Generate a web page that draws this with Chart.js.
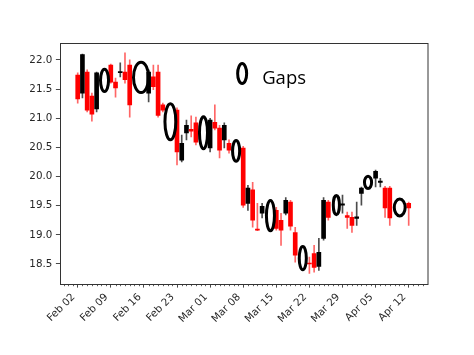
<!DOCTYPE html>
<html><head><meta charset="utf-8">
<script src="https://cdn.jsdelivr.net/npm/chart.js@4/dist/chart.umd.min.js"></script>
<style>html,body{margin:0;padding:0;background:#fff;} #c{display:block;}</style>
</head><body>
<canvas id="c" width="474" height="355"></canvas>
<script>
// ---- data ----
const dates = [
 '2004-02-02','2004-02-03','2004-02-04','2004-02-05','2004-02-06',
 '2004-02-09','2004-02-10','2004-02-11','2004-02-12','2004-02-13',
 '2004-02-17','2004-02-18','2004-02-19','2004-02-20',
 '2004-02-23','2004-02-24','2004-02-25','2004-02-26','2004-02-27',
 '2004-03-01','2004-03-02','2004-03-03','2004-03-04','2004-03-05',
 '2004-03-08','2004-03-09','2004-03-10','2004-03-11','2004-03-12',
 '2004-03-15','2004-03-16','2004-03-17','2004-03-18','2004-03-19',
 '2004-03-22','2004-03-23','2004-03-24','2004-03-25','2004-03-26',
 '2004-03-29','2004-03-30','2004-03-31','2004-04-01','2004-04-02',
 '2004-04-05','2004-04-06','2004-04-07','2004-04-08',
 '2004-04-12'];
const opens  = [21.74,21.43,21.79,21.38,21.16, 21.91,21.62,21.78,21.79,21.91, 21.43,21.71,21.79,21.23,
  21.14,20.28,20.75,20.81,20.92, 20.49,20.93,20.83,20.63,20.57, 20.49,19.54,19.77,19.10,19.37,
  19.42,19.25,19.37,19.56,19.04, 18.51,18.68,18.46,18.94,19.56, 19.51,19.33,19.30,19.28,19.71,
  19.97,19.90,19.80,19.80, 19.54];
const highs  = [21.78,22.10,21.83,21.43,21.79, 21.93,21.69,21.95,22.12,22.00, 21.83,21.91,21.91,21.26,
  21.18,20.71,20.97,21.04,21.02, 21.00,21.23,20.88,20.92,20.63, 20.52,19.85,19.90,19.54,19.54,
  19.47,19.37,19.64,19.59,19.13, 18.62,18.82,18.94,19.64,19.59, 19.68,19.39,19.39,19.56,19.82,
  20.11,19.97,19.83,19.83, 19.56];
const lows   = [21.26,21.35,21.11,20.95,21.11, 21.60,21.36,21.71,21.60,21.02, 21.28,21.49,21.02,21.11,
  20.20,20.25,20.63,20.68,20.54, 20.42,20.80,20.32,20.49,20.40, 19.47,19.42,19.13,19.07,19.29,
  19.08,18.82,19.34,19.08,18.53, 18.34,18.36,18.39,18.91,19.25, 19.37,19.11,19.04,19.16,19.51,
  19.82,19.82,19.30,19.16, 19.16];
const closes = [21.33,22.09,21.14,21.07,21.78, 21.62,21.52,21.80,21.66,21.23, 21.79,21.54,21.05,21.14,
  20.42,20.57,20.88,20.78,20.59, 20.97,20.83,20.45,20.88,20.45, 19.51,19.80,19.25,19.08,19.49,
  19.11,19.08,19.59,19.15,18.65, 18.50,18.44,18.70,19.59,19.30, 19.53,19.30,19.16,19.31,19.80,
  20.09,19.92,19.46,19.29, 19.46];
// gap markers: centre (days after Feb 02, price) and span (days, price)
const gapX     = [5.67,13.4,19.6,26.6,33.5,40.76,47.6,54.7,61.4,68.1];
const gapY     = [21.65,21.70,20.94,20.75,20.44,19.33,18.60,19.51,19.90,19.47];
const gapSpanX = [1.7,3.2,2.3,1.7,1.5,1.7,1.5,1.3,1.5,2.3];
const gapSpanY = [0.38,0.52,0.62,0.55,0.36,0.52,0.40,0.33,0.21,0.29];
const tickDates  = ['2004-02-02','2004-02-09','2004-02-16','2004-02-23','2004-03-01','2004-03-08','2004-03-15','2004-03-22','2004-03-29','2004-04-05','2004-04-12'];
const tickLabels = ['Feb 02','Feb 09','Feb 16','Feb 23','Mar 01','Mar 08','Mar 15','Mar 22','Mar 29','Apr 05','Apr 12'];
const yTicks = [18.5,19.0,19.5,20.0,20.5,21.0,21.5,22.0];
const legendText = 'Gaps';

// ---- helpers ----
const base = Date.UTC(2004,1,2);
const dayOf = s => { const [Y,M,D] = s.split('-').map(Number); return (Date.UTC(Y,M-1,D)-base)/86400000; };
const xs = dates.map(dayOf);
const tickDays = tickDates.map(dayOf);
const up = closes.map((c,i)=>c>=opens[i]);
const bodyData = xs.map((x,i)=>({x, y:[opens[i], closes[i]]}));
const wickData = xs.map((x,i)=>({x, y:[lows[i], highs[i]]}));

const FONT = 'DejaVu Sans';
const decor = {
  id:'decor',
  afterDatasetsDraw(chart){
    const {ctx, chartArea:a, scales:{x,y}} = chart;
    ctx.save();
    ctx.beginPath(); ctx.rect(a.left,a.top,a.right-a.left,a.bottom-a.top); ctx.clip();
    ctx.strokeStyle='#000'; ctx.lineWidth=3;
    gapX.forEach((gx,i)=>{
      const cx=x.getPixelForValue(gx), cy=y.getPixelForValue(gapY[i]);
      const rx=Math.abs(x.getPixelForValue(gx+gapSpanX[i]/2)-cx);
      const ry=Math.abs(y.getPixelForValue(gapY[i]+gapSpanY[i]/2)-cy);
      ctx.beginPath(); ctx.ellipse(cx,cy,rx,ry,0,0,Math.PI*2); ctx.stroke();
    });
    // legend-like annotation
    const lx = a.left + 0.497*(a.right-a.left), ly = a.top + 0.127*(a.bottom-a.top);
    ctx.beginPath(); ctx.ellipse(lx, ly, 4.5, 10, 0, 0, Math.PI*2); ctx.stroke();
    ctx.fillStyle='#000'; ctx.font='18.5px "Open Sans"'; ctx.textBaseline='alphabetic'; ctx.textAlign='left';
    ctx.fillText(legendText, lx+20, ly+10);
    ctx.restore();
  },
  afterDraw(chart){
    const {ctx, chartArea:a, scales:{x}} = chart;
    ctx.save();
    ctx.strokeStyle='#333'; ctx.lineWidth=1;
    ctx.strokeRect(Math.round(a.left)+0.5, Math.round(a.top)+0.5, Math.round(a.right-a.left)-0.5, Math.round(a.bottom-a.top));
    ctx.lineWidth=0.8;
    for(let d=Math.ceil(x.min); d<=Math.floor(x.max); d++){
      if(tickDays.includes(d)) continue;
      const px=Math.round(x.getPixelForValue(d))+0.5;
      ctx.beginPath(); ctx.moveTo(px,a.bottom); ctx.lineTo(px,a.bottom+2.2); ctx.stroke();
    }
    ctx.restore();
  }
};

new Chart(document.getElementById('c'), {
  type:'bar',
  data:{datasets:[
    {label:'body', data:bodyData, grouped:false, barThickness:4, minBarLength:1,
     backgroundColor: up.map(u=>u?'#000000':'#ff0000'), borderWidth:0, order:1},
    {label:'wick', data:wickData, grouped:false, barThickness:1,
     backgroundColor: up.map(u=>u?'rgba(0,0,0,0.7)':'rgba(255,0,0,0.6)'), borderWidth:0, order:2}
  ]},
  options:{
    responsive:false, animation:false, devicePixelRatio:1,
    layout:{padding:{left:0, top:43, right:47, bottom:0}},
    plugins:{legend:{display:false}, tooltip:{enabled:false}},
    scales:{
      x:{type:'linear', min:-3.85, max:73.87, offset:false,
         grid:{display:true, drawOnChartArea:false, drawTicks:true, tickLength:3.6, tickColor:'#333', tickWidth:0.9, offset:false},
         border:{display:false},
         ticks:{autoSkip:false, maxRotation:45, minRotation:45, padding:3.5, labelOffset:-4.2, color:'#262626',
                font:{family:FONT, size:10.3},
                callback:(v)=>{const i=tickDays.indexOf(v); return i>=0?tickLabels[i]:'';}},
         afterBuildTicks:s=>{s.ticks=tickDays.map(v=>({value:v}));},
         afterFit:s=>{s.height=71;}
      },
      y:{type:'linear', min:18.157, max:22.29,
         grid:{display:true, drawOnChartArea:false, drawTicks:true, tickLength:3.6, tickColor:'#333', tickWidth:0.9},
         border:{display:false},
         ticks:{padding:3.6, color:'#262626', font:{family:FONT, size:10.3}, callback:v=>v.toFixed(1)},
         afterBuildTicks:s=>{s.ticks=yTicks.map(v=>({value:v}));},
         afterFit:s=>{s.width=59.5;}
      }
    }
  },
  plugins:[decor]
});
</script>
</body></html>
